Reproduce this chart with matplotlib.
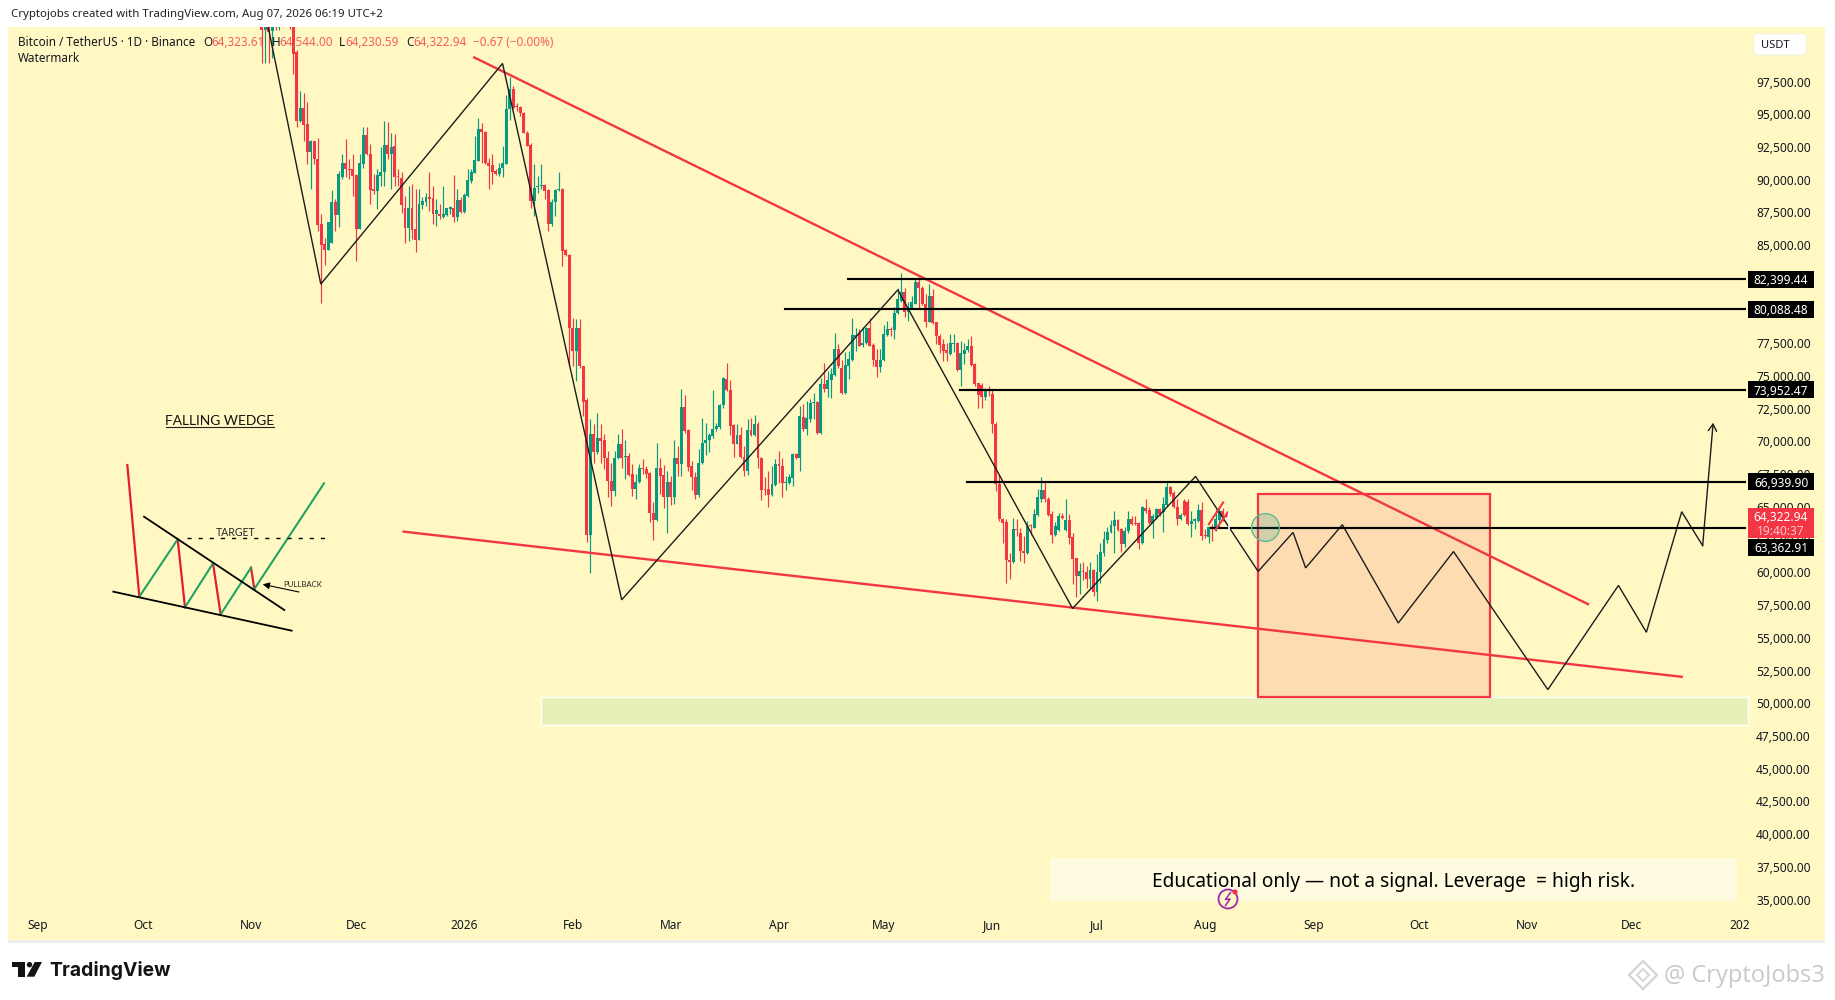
import numpy as np
import matplotlib
matplotlib.use("Agg")
import matplotlib.pyplot as plt
from matplotlib.patches import Rectangle, Polygon, Circle, FancyBboxPatch
from matplotlib.transforms import blended_transform_factory

plt.rcParams['font.family'] = ['Noto Sans', 'DejaVu Sans']

# ---- candles, one per day, the last one is 2026-08-07 (day 218 counted from 2026-01-01)
LAST_DAY = 218
opens = [
 101700,101450,101700,101350,102400,102000,104000,103500,102500,103000,
 99720,94500,95510,94240,92130,92970,91570,86600,85070,84640,
 85200,88260,87310,90170,91310,90850,90800,90370,86220,91180,
 93400,92000,89270,89150,90290,90550,92640,91950,92540,90290,
 90120,87820,86290,87820,86220,85400,88080,88330,88640,88590,
 87360,87360,87160,87310,87750,87870,87160,88430,87540,88770,
 89910,90500,91440,93860,93680,91310,91110,90680,90420,90880,
 91180,95390,96920,95640,95570,95130,93600,92640,88380,89450,
 89530,89580,89200,86600,88330,89220,89270,84640,
 84230,78700,76920,78700,75730,73150,62870,70560,69210,70300,
 70100,68770,66990,66230,68770,69790,68820,68880,67500,66350,
 66940,68010,67930,67580,64570,63980,67960,67420,65770,66940,
 65720,68770,68310,72620,70860,68140,67250,65890,68390,69920,
 70120,70430,70940,71120,72770,74810,73920,71240,69840,70480,
 68850,67750,70860,70500,71370,68770,66350,66350,65890,66680,
 68260,68090,66860,66860,67200,69030,68720,71880,70940,71700,
 72900,73030,70610,74380,74000,74680,75060,77050,75650,73690,
 75780,76230,77990,78270,77360,77510,78650,77360,76230,75680,
 76230,78120,78630,78500,79780,80740,81430,79900,80160,80540,
 82200,81690,80490,79160,81130,79090,78070,77430,76970,76670,
 77480,77560,75450,76670,76970,77260,75910,74450,74300,73410,
 73950,73610,71370,66740,64110,63810,60950,60800,63300,63040,
 61640,61440,63600,63420,64390,65640,66280,65640,64440,62870,
 63220,
 64320,63220,63990,62690,61080,59730,60090,59990,59480,60190,
 58510,59990,61470,62480,63100,63550,63990,63300,62150,63170,
 64110,63760,63760,62230,64950,64750,63760,64190,64830,64620,
 65130,66530,66050,65030,64060,65460,65390,63680,63940,63940,
 64750,62840,62710,63500,63300,64010,64650,64323.61,
]
closes = [
 101450,101750,101300,101700,102000,102500,103500,104000,101700,99640,
 94500,95510,94160,92130,92970,91570,86550,85020,84640,86800,
 88260,87310,90420,91310,90800,90750,90290,86220,91240,93400,
 91950,89200,89150,90340,90550,92640,91950,92460,90220,90170,
 88080,86290,87820,86170,85400,88130,88380,88640,88560,87360,
 87670,87190,87360,87800,87950,87160,88430,87540,88840,89960,
 90600,91490,93860,93680,91310,91010,90550,90420,90930,91240,
 95390,96920,95510,95570,95080,93600,92590,88380,89400,89530,
 89580,89150,86600,88330,89200,89270,84560,84230,
 78700,76920,78700,75730,73050,62870,70560,69210,70300,70050,
 68720,66990,66230,68770,69790,68720,68900,67450,66350,66940,
 67960,67880,67500,64570,63980,67960,67370,65770,66940,65720,
 68770,68310,72620,70810,68060,67250,65890,68390,69920,70120,
 70480,70940,71190,72770,74860,73920,71190,69840,70480,68850,
 67750,70860,70500,71320,68770,66300,66300,65920,66740,68260,
 68090,66810,66920,67250,69030,68720,71960,70940,71780,72930,
 72980,70610,74380,74000,74710,75140,77050,75730,73690,75830,
 76290,78120,78120,77310,77560,78650,77310,76230,75680,76230,
 78200,78630,78500,79780,80870,81430,79900,80230,80670,82200,
 81690,80490,79160,81130,79040,78020,77380,76920,76750,77510,
 77560,75450,76750,77000,77260,75850,74380,73560,73360,73990,
 73870,71320,66740,64060,63760,60950,60800,63300,63250,61640,
 61440,63550,63550,64440,65720,66280,65590,64390,62870,63550,
 64320,
 64190,63990,62660,61030,59730,60090,59990,59480,60190,58510,
 59990,61520,62530,63120,63600,63990,63250,62150,63170,64110,
 63680,63660,62230,65000,64650,63760,64320,64830,64490,65210,
 66530,65970,65000,64060,64390,64370,63680,63940,64060,64750,
 62790,62770,63500,63300,64060,64650,64320,64322.94,
]
highs = [
 102500,102500,102600,102800,103000,103200,105000,105000,103000,103800,
 99900,96790,96660,95900,93000,92970,93220,87360,85580,86800,
 89200,88510,90680,91950,93090,91570,91950,90420,91950,94060,
 94060,92710,90420,90800,92460,94500,94370,93550,93480,90800,
 90550,88770,89530,89660,89270,89270,88640,89020,90550,89530,
 88510,88130,89530,87870,88000,90340,89270,88640,89020,90800,
 90850,93350,94750,94320,93730,91690,91950,90800,91310,92590,
 96460,97860,97120,95850,95640,95180,93730,92840,91180,90290,
 91180,89660,89270,88510,89270,90550,89330,84690,
 84310,79420,79340,79340,75780,73310,71700,71320,72210,71320,
 70560,69280,68390,69280,70560,70940,70100,69150,68260,67500,
 68260,68650,68140,67630,65340,69920,68770,68210,67760,67370,
 70100,69660,73990,73560,70940,68470,67630,69460,71780,71400,
 70680,73920,71400,72850,74940,75960,74680,71320,71320,71120,
 69660,71750,71830,72030,71450,68820,67250,67750,68140,68650,
 69280,68700,67370,67500,69100,69080,72720,72850,73100,73230,
 73740,73100,74830,75980,75400,75650,78270,77430,76230,76850,
 76920,79420,78660,78630,78710,78710,79470,77510,77050,77050,
 78880,79220,78710,80240,81760,82860,81690,80620,81130,82480,
 82530,81840,81250,82020,81640,79140,78200,77820,77560,78200,
 78200,77610,77690,77560,77820,78020,75960,74500,74500,74120,
 74200,73950,71450,67420,64190,64060,61460,64190,64060,63350,
 62790,63930,63680,64830,66350,67250,66940,65720,64700,63810,
 64520,
 64570,65590,64450,63040,61130,60750,60800,60500,60800,60240,
 61390,62230,63170,63430,64010,64650,64060,63380,63430,64700,
 64320,64320,63810,65080,65590,65000,64450,64880,64950,65720,
 66940,66610,66230,65590,64570,65590,65590,64700,64190,65210,
 65340,63300,63550,63680,64830,64950,64950,64544.00,
]
lows = [
 98930,98950,98950,99260,101420,101420,102500,102800,101500,98110,
 94000,94370,92970,91180,89270,91180,86090,80610,83470,84640,
 85200,86090,86350,90040,90170,90040,88770,83800,86220,90930,
 91870,88130,88890,87750,89530,89530,91570,89270,89530,89530,
 87490,85200,85330,85450,84440,85400,87750,88000,87620,86600,
 86470,86980,87110,87240,87360,86780,86860,87490,87490,88640,
 89780,90500,91440,91310,91180,89320,89660,90340,90290,90170,
 91180,94570,95390,95260,94880,93550,92540,87870,87240,89020,
 89270,88510,86090,86470,87240,89150,83420,84180,
 75780,75780,74630,75650,71960,62330,59930,68390,69030,68390,
 67880,65770,65080,65840,68650,68010,67120,67370,65840,65590,
 66860,67500,67170,63860,62480,63930,65970,64950,62990,65130,
 65210,67370,67370,70610,67750,66300,65640,65790,68260,68950,
 69230,70300,70810,70940,72590,73870,70480,68850,69790,68770,
 67370,67420,70430,70430,68010,65540,65890,65030,65840,66610,
 66860,65720,66300,66740,66610,68650,67750,70810,70480,71450,
 71700,70560,70560,73790,73430,73310,75010,75650,73610,73610,
 74760,76160,76920,77260,77180,77430,77260,75730,74940,75320,
 76160,78020,78070,77820,79730,80670,79520,79220,80110,80490,
 80230,80410,78780,79090,78960,77430,76750,76160,76160,76590,
 76800,75350,74250,75900,76800,75780,74250,72520,72520,73180,
 73490,70630,66230,63930,62280,59150,59480,60750,62790,60830,
 60750,61390,62840,63350,64320,65390,65390,64320,62280,62790,
 63170,
 64060,63170,62150,59100,58130,58330,59430,58840,58840,58200,
 57820,59220,61260,62280,62990,61470,63170,61570,61900,63040,
 63600,63600,61820,62150,64570,63680,62590,64110,64320,63100,
 65080,65850,64880,63600,64010,64320,63600,62710,63300,63860,
 62480,62660,62280,62410,63170,63350,63940,64230.59,
]

# ---- black wave: past swings and the projected path, red wedge lines
wave_days = [-56.2, -41.1, 10.9, 45, 124, 174, 209.2, 227.1, 237.1, 240.7, 251.2,
             267.2, 283, 310, 330.2, 338.2, 348.3, 354.3, 357.3]
wave_prices = [101730, 82020, 98880, 57900, 81580, 57240, 67330, 60070, 63050, 60340, 63640,
               56130, 61590, 51040, 59000, 55420, 64630, 62040, 71430]
upper_days = [2.8, 321.5]
upper_prices = [99340, 57570]
lower_days = [-17.4, 348.3]
lower_prices = [63110, 52020]

# ---- horizontal levels
level_prices = [82399.44, 80088.48, 73952.47, 66939.90, 63362.91]
level_starts = [109.8, 91.7, 141.8, 143.8, 213.5]
level_texts = ['82,399.44', '80,088.48', '73,952.47', '66,939.90', '63,362.91']
level_label_prices = [82399.44, 80088.48, 73952.47, 66939.90, 61925]

# ---- zones
box_days = (227.1, 293.4)
box_prices = (50500, 65970)
band_days = (21.8, 367.3)
band_prices = (48350, 50500)
circle_day, circle_price = 229.1, 63430
channel_a = ([213, 217.1], [63680, 65340])
channel_b = ([214.9, 218.4], [63250, 64580])

# ---- axis ticks
price_ticks = list(range(35000, 97501, 2500))
month_days = [-122, -92, -61, -31, 0, 31, 59, 90, 120, 151, 181, 212, 243, 273, 304, 334, 365]
month_names = ['Sep', 'Oct', 'Nov', 'Dec', '2026', 'Feb', 'Mar', 'Apr', 'May', 'Jun', 'Jul', 'Aug',
               'Sep', 'Oct', 'Nov', 'Dec', '202']

# ---- falling wedge sketch
wedge_red = [([112, 148], [195, 590]), ([263, 285], [418, 622]),
             ([369, 392], [490, 643]), ([483, 493], [503, 567])]
wedge_green = [([148, 263], [590, 418]), ([285, 369], [622, 490]),
               ([392, 483], [643, 503]), ([493, 702], [567, 250])]
wedge_black = [([162, 583], [350, 630]), ([70, 605], [575, 692])]

UP = '#089981'
DOWN = '#F23645'
PANEL = '#FFF8C3'
INK = '#131722'
W, H = 1835, 1000
TICK_PT = 8.6


def rect_of(x0, y0, x1, y1):
    # pixel box, y from the top, to figure fractions
    return [x0 / W, 1 - y1 / H, (x1 - x0) / W, (y1 - y0) / H]


fig = plt.figure(figsize=(W / 100, H / 100), dpi=100, facecolor='white')
fig.add_artist(Rectangle((8 / W, 1 - 943 / H), 1817 / W, 3 / H, transform=fig.transFigure, fc='#EEEEEE', lw=0, zorder=-2))
fig.add_artist(Rectangle((8 / W, 1 - 940 / H), 1817 / W, 913 / H, transform=fig.transFigure, fc=PANEL, lw=0, zorder=-1))

ax = fig.add_axes(rect_of(8, 27, 1746, 912))
ax.set_facecolor('none')
ax.set_xlim(-130.6, 366.7)
ax.set_ylim(34050, 101665)
for s in ax.spines.values():
    s.set_visible(False)

ax.yaxis.tick_right()
ax.set_yticks(price_ticks)
ax.set_yticklabels([f'{p:,.2f}' for p in price_ticks], fontsize=TICK_PT, color=INK)
ax.tick_params(axis='y', length=0, pad=7.3)
ax.set_xticks(month_days)
ax.set_xticklabels(month_names, fontsize=TICK_PT, color=INK)
ax.tick_params(axis='x', length=0, pad=5.0)
for lab, name in zip(ax.get_xticklabels(), month_names):
    if name.startswith('202'):
        lab.set_fontweight('bold')

# zones go under the candles
ax.add_patch(Rectangle((band_days[0], band_prices[0]), band_days[1] - band_days[0], band_prices[1] - band_prices[0],
                       fc='#E8F0B9', ec='white', lw=1, zorder=1, clip_on=False))
ax.add_patch(Rectangle((box_days[0], box_prices[0]), box_days[1] - box_days[0], box_prices[1] - box_prices[0],
                       fc='#FDDCB2', ec=DOWN, lw=1.6, zorder=1))

# candles
o = np.array(opens, dtype=float)
c = np.array(closes, dtype=float)
hi = np.array(highs, dtype=float)
lo = np.array(lows, dtype=float)
days = LAST_DAY - np.arange(len(o))[::-1]
cols = [UP if b >= a else DOWN for a, b in zip(o, c)]
ax.vlines(days, lo, hi, colors=cols, lw=0.85, zorder=3)
ax.bar(days, np.maximum(np.abs(c - o), 80), bottom=np.minimum(o, c), width=0.84, color=cols, lw=0, zorder=3)

# wave + arrow at its end
ax.plot(wave_days[:-1], wave_prices[:-1], color='#1c1c1c', lw=1.0, zorder=5, solid_joinstyle='miter')
ax.annotate('', xy=(wave_days[-1], wave_prices[-1]), xytext=(wave_days[-2], wave_prices[-2]),
            arrowprops=dict(arrowstyle='->,head_length=0.5,head_width=0.3', color='#1c1c1c', lw=1.0,
                            shrinkA=0, shrinkB=0), zorder=5)

# wedge lines
ax.plot(upper_days, upper_prices, color=DOWN, lw=1.7, zorder=4)
ax.plot(lower_days, lower_prices, color=DOWN, lw=1.7, zorder=4)
ax.plot(*channel_a, color=DOWN, lw=1.5, zorder=6)
ax.plot(*channel_b, color=DOWN, lw=1.5, zorder=6)
ax.plot([218.8, 218.8], [63170, 64600], color='white', lw=1.2, zorder=6)

# levels
for price, start in zip(level_prices, level_starts):
    ax.plot([start, 366.7], [price, price], color='black', lw=1.55, zorder=5)

ax.scatter([circle_day], [circle_price], s=400, fc=(0.03, 0.6, 0.51, 0.18), ec='#5DB98F', lw=1.0, zorder=6)

# price labels on the scale
trans = blended_transform_factory(ax.transAxes, ax.transData)
ax_w = 1738.0
for price, text in zip(level_label_prices, level_texts):
    ax.add_patch(Rectangle((1 + 2 / ax_w, price - 650), 66 / ax_w, 1300, transform=trans, fc='black', lw=0,
                           clip_on=False, zorder=10))
    ax.text(1 + 35 / ax_w, price, text, transform=trans, color='white', fontsize=TICK_PT, ha='center',
            va='center_baseline', clip_on=False, zorder=11)
ax.add_patch(Rectangle((1 + 2 / ax_w, 62612), 66 / ax_w, 2293, transform=trans, fc=DOWN, lw=0, clip_on=False, zorder=10))
ax.text(1 + 35 / ax_w, 64322.94, '64,322.94', transform=trans, color='white', fontsize=TICK_PT, ha='center',
        va='center_baseline', clip_on=False, zorder=11)
ax.text(1 + 35 / ax_w, 63240, '19:40:37', transform=trans, color='#FBC4C8', fontsize=TICK_PT, ha='center',
        va='center_baseline', clip_on=False, zorder=11)

# everything placed by pixel on the shot
over = fig.add_axes([0, 0, 1, 1], facecolor='none')
over.set_xlim(0, W)
over.set_ylim(H, 0)
over.axis('off')

over.text(11, 15, 'Cryptojobs created with TradingView.com, Aug 07, 2026 06:19 UTC+2', fontsize=8.25, color='#222222',
          ha='left', va='center')
over.text(18, 43, 'Bitcoin / TetherUS · 1D · Binance', fontsize=8.45, color=INK, va='center')
for x, t, col in [(203, 'O', INK), (211.5, '64,323.61', '#F55D62'), (272, 'H', INK), (279, '64,544.00', '#F55D62'),
                  (339, 'L', INK), (345.6, '64,230.59', '#F55D62'), (406, 'C', INK), (413, '64,322.94', '#F55D62'),
                  (473, '\u22120.67 (\u22120.00%)', '#F55D62')]:
    over.text(x, 43, t, fontsize=8.45, color=col, va='center')
over.text(18, 59, 'Watermark', fontsize=8.45, color=INK, va='center')

over.add_patch(FancyBboxPatch((1755, 35), 50, 19, boxstyle='round,pad=1,rounding_size=3', fc='white', ec='#F0F0E0', lw=0.6))
over.text(1775, 45, 'USDT', fontsize=8, color=INK, ha='center', va='center')

# disclaimer
over.add_patch(Rectangle((1050, 858), 687, 43, fc='#FFFBE1', lw=0))
over.text(1393.5, 881.5, 'Educational only \u2014 not a signal. Leverage  = high risk.', fontsize=13.8,
          color='black', ha='center', va='center')

# bolt badge
over.add_patch(Circle((1228, 899), 9.5, fc=PANEL, ec='#9C27B0', lw=1.3))
over.plot([1230.5, 1225.5, 1230, 1225.5], [892.5, 899.5, 899, 905.5], color='#9C27B0', lw=1.1)
over.add_patch(Circle((1235, 892), 2.6, fc=DOWN, lw=0))

# falling wedge sketch, reads 3x the pixels from (90, 400)
def wx(v):
    return 90 + np.array(v) / 3


def wy(v):
    return 400 + np.array(v) / 3


for xs, ys in wedge_red:
    over.plot(wx(xs), wy(ys), color='#E01E37', lw=1.6)
for xs, ys in wedge_green:
    over.plot(wx(xs), wy(ys), color='#1FA463', lw=1.5)
for xs, ys in wedge_black:
    over.plot(wx(xs), wy(ys), color='black', lw=1.3)
over.plot(wx([290, 705]), wy([414, 414]), color='black', lw=1.0, ls=(0, (3, 5)))
over.annotate('', xy=(wx(518), wy(553)), xytext=(wx(627), wy(576)),
              arrowprops=dict(arrowstyle='-|>,head_length=0.4,head_width=0.2', color='black', lw=0.8, shrinkA=0, shrinkB=0))
over.text(wx(436), wy(396), 'TARGET', fontsize=7.6, color='#222222', ha='center', va='center', family=['Lato'])
over.text(wx(637), wy(553), 'PULLBACK', fontsize=5.6, color='#222222', ha='center', va='center', family=['Lato'])
over.text(wx(389), wy(62), 'FALLING WEDGE', fontsize=9.9, color='#111111', ha='center', va='center', family=['Lato'])
over.plot(wx([228, 552]), wy([82, 82]), color='#222222', lw=0.8)

# TradingView logo
over.add_patch(Polygon([(12, 962), (25.3, 962), (25.3, 976.7), (18.3, 976.7), (18.3, 967), (12, 967)], fc='#131313', lw=0))
over.add_patch(Circle((29.5, 964.7), 2.7, fc='#131313', lw=0))
over.add_patch(Polygon([(34.7, 962), (42, 962), (34.3, 976.7), (26.7, 976.7)], fc='#131313', lw=0))
over.text(49.5, 970, 'TradingView', fontsize=13.9, fontweight='bold', family=['Inter'], color='#131313', va='center')

# watermark bottom right
over.add_patch(Polygon([(1643, 961), (1657, 975), (1643, 989), (1629, 975)], fc='none', ec='#D5D5D5', lw=1.6))
over.add_patch(Polygon([(1643, 969), (1649, 975), (1643, 981), (1637, 975)], fc='none', ec='#D5D5D5', lw=1.4))
over.text(1664, 976, '@ CryptoJobs3', fontsize=17, family=['Open Sans'], color='#C9C9C9', va='center')

fig.savefig('out.png', dpi=100, facecolor='white')
